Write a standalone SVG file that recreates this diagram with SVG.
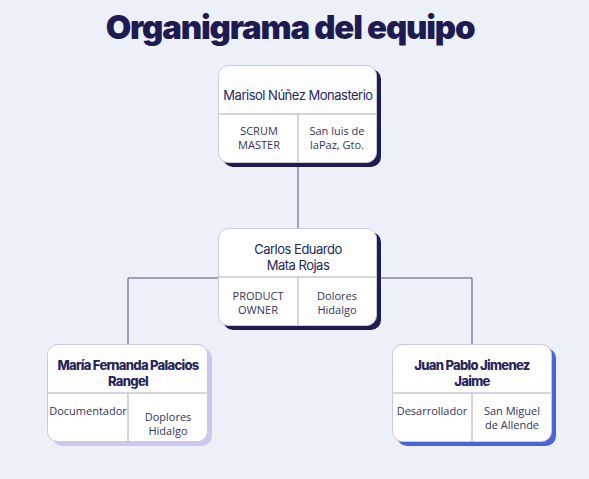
<svg xmlns="http://www.w3.org/2000/svg" width="589" height="479" viewBox="0 0 589 479">
<style>
.bg{fill:#ECF0F9}
.card{fill:#FFFFFF;stroke:#C9CBD6;stroke-width:1}
.div{stroke:#A9AABB;stroke-width:1;fill:none}
.conn{stroke:#4F5086;stroke-width:1;fill:none}
.title{font-family:Inter,"Open Sans",sans-serif;font-weight:900;font-size:33px;fill:#1D1B52;letter-spacing:-1.2px}
.name{font-family:Inter,"Noto Sans",sans-serif;font-size:13px;fill:#26265C;text-anchor:middle;letter-spacing:-0.5px}
.nameb{font-family:Inter,"Noto Sans",sans-serif;font-size:13px;font-weight:800;fill:#26265C;text-anchor:middle;letter-spacing:-0.7px}
.det{font-family:"Open Sans","Noto Sans",sans-serif;font-size:11px;fill:#33335F;text-anchor:middle}
</style>
<rect class="bg" x="0" y="0" width="589" height="479"/>
<text class="title" x="290" y="39" text-anchor="middle">Organigrama del equipo</text>
<g id="connectors">
<path class="conn" d="M298 166 V229"/>
<path class="conn" d="M128 344 V278 H472 V344"/>
</g>
<g id="node-marisol">
<rect x="223" y="69" width="158" height="98" rx="10" fill="#1E1C50"/>
<rect class="card" x="218.5" y="65.5" width="158" height="97" rx="10"/>
<path class="div" d="M219 114 H376 M298 114 V162"/>
<text class="name" x="298" y="100">Marisol Núñez Monasterio</text>
<text class="det" x="259" y="135">SCRUM</text>
<text class="det" x="259" y="149">MASTER</text>
<text class="det" x="337" y="135">San luis de</text>
<text class="det" x="337" y="149">laPaz, Gto.</text>
</g>
<g id="node-carlos">
<rect x="223" y="232" width="158" height="98" rx="10" fill="#1E1C50"/>
<rect class="card" x="218.5" y="228.5" width="158" height="97" rx="10"/>
<path class="div" d="M219 277 H376 M298 277 V325"/>
<text class="name" x="298" y="254">Carlos Eduardo</text>
<text class="name" x="298" y="270">Mata Rojas</text>
<text class="det" x="258" y="300">PRODUCT</text>
<text class="det" x="258" y="314">OWNER</text>
<text class="det" x="337" y="300">Dolores</text>
<text class="det" x="337" y="314">Hidalgo</text>
</g>
<g id="node-maria">
<rect x="52" y="348" width="160" height="98" rx="10" fill="#CFC6F0"/>
<rect class="card" x="47.5" y="344.5" width="160" height="97" rx="10"/>
<path class="div" d="M48 393 H207 M128 393 V441"/>
<text class="nameb" x="128" y="370">María Fernanda Palacios</text>
<text class="nameb" x="128" y="386">Rangel</text>
<text class="det" x="88" y="415">Documentador</text>
<text class="det" x="168" y="421">Doplores</text>
<text class="det" x="168" y="435">Hidalgo</text>
</g>
<g id="node-juan">
<rect x="397" y="348" width="159" height="98" rx="10" fill="#4B63D6"/>
<rect class="card" x="392.5" y="344.5" width="159" height="97" rx="10"/>
<path class="div" d="M393 393 H551 M472 393 V441"/>
<text class="nameb" x="472" y="370">Juan Pablo Jimenez</text>
<text class="nameb" x="472" y="386">Jaime</text>
<text class="det" x="432" y="415">Desarrollador</text>
<text class="det" x="512" y="415">San Miguel</text>
<text class="det" x="512" y="429">de Allende</text>
</g>
</svg>
